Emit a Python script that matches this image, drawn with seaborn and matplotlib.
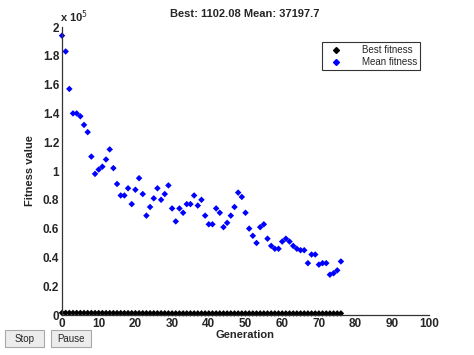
import matplotlib
matplotlib.use('Agg')
import matplotlib.pyplot as plt
import seaborn as sns
import pandas as pd
from matplotlib.lines import Line2D
from matplotlib.patches import Rectangle

# Dados (valores da media em unidades de 1e5)
generations = list(range(77))
mean_fitness = [
    1.94, 1.83, 1.57, 1.40, 1.40, 1.38, 1.32, 1.27, 1.10, 0.98,
    1.01, 1.03, 1.08, 1.15, 1.02, 0.91, 0.83, 0.83, 0.88, 0.77,
    0.87, 0.95, 0.84, 0.69, 0.75, 0.81, 0.88, 0.80, 0.84, 0.90,
    0.74, 0.65, 0.74, 0.71, 0.77, 0.77, 0.83, 0.76, 0.80, 0.69,
    0.63, 0.63, 0.74, 0.71, 0.61, 0.64, 0.69, 0.75, 0.85, 0.82,
    0.71, 0.60, 0.55, 0.50, 0.61, 0.63, 0.53, 0.48, 0.46, 0.46,
    0.51, 0.53, 0.51, 0.48, 0.46, 0.45, 0.45, 0.36, 0.42, 0.42,
    0.35, 0.36, 0.36, 0.28, 0.29, 0.31, 0.372,
]
best_fitness = [
    1500, 1480, 1460, 1450, 1440, 1430, 1420, 1410, 1400, 1390,
    1380, 1370, 1360, 1350, 1340, 1330, 1320, 1310, 1300, 1290,
    1280, 1270, 1260, 1250, 1240, 1230, 1220, 1210, 1200, 1150,
    1140, 1138, 1136, 1134, 1132, 1130, 1128, 1126, 1124, 1122,
    1120, 1119, 1118, 1117, 1116, 1115, 1114, 1113, 1112, 1111,
    1110, 1109, 1108, 1107, 1106.5, 1106, 1105.5, 1105, 1104.8, 1104.6,
    1104.4, 1104.2, 1104, 1103.8, 1103.6, 1103.4, 1103.2, 1103, 1102.9, 1102.8,
    1102.7, 1102.6, 1102.5, 1102.4, 1102.3, 1102.2, 1102.08,
]
x_ticks = list(range(0, 101, 10))
y_ticks = [0, 0.2, 0.4, 0.6, 0.8, 1.0, 1.2, 1.4, 1.6, 1.8, 2.0]
y_labels = ['0', '0.2', '0.4', '0.6', '0.8', '1', '1.2', '1.4', '1.6', '1.8', '2']

df = pd.DataFrame({
    'Generation': generations + generations,
    'Fitness': best_fitness + [m * 1e5 for m in mean_fitness],
    'Serie': ['Best fitness'] * len(generations) + ['Mean fitness'] * len(generations),
})

sns.set_style('white')
plt.rcParams['font.family'] = ['Liberation Sans', 'DejaVu Sans']

W, H = 474, 355
fig = plt.figure(figsize=(W / 100, H / 100), dpi=100)
ax = fig.add_axes([62 / W, 1 - 315 / H, (429 - 62) / W, (315 - 27) / H])

sns.scatterplot(data=df, x='Generation', y='Fitness', hue='Serie',
                palette={'Best fitness': 'black', 'Mean fitness': 'blue'},
                marker='D', s=11, edgecolor=None, linewidth=0, ax=ax,
                legend=False, clip_on=False)

ax.set_xlim(0, 100)
ax.set_ylim(0, 2e5)
ax.set_xticks(x_ticks)
ax.set_yticks([v * 1e5 for v in y_ticks])
ax.set_xticklabels([str(t) for t in x_ticks], fontweight='bold', fontsize=8.5)
ax.set_yticklabels(y_labels, fontweight='bold', fontsize=8.5)
ax.tick_params(direction='in', length=4, width=0.8, color='#333333', pad=2)
for s in ['top', 'right']:
    ax.spines[s].set_visible(False)
for s in ['left', 'bottom']:
    ax.spines[s].set_color('#333333')
    ax.spines[s].set_linewidth(0.9)

ax.set_xlabel('Generation', fontweight='bold', fontsize=8, labelpad=0)
ax.set_ylabel('Fitness value', fontweight='bold', fontsize=8, labelpad=6)

fig.text(245 / W, 1 - 14 / H, 'Best: 1102.08 Mean: 37197.7', ha='center', va='center',
         fontweight='bold', fontsize=8)
fig.text(60 / W, 1 - 17 / H, r'x 10$^{5}$', ha='left', va='center',
         fontweight='bold', fontsize=8)

# legenda
handles = [Line2D([], [], marker='D', color='black', ls='none', markersize=3),
           Line2D([], [], marker='D', color='blue', ls='none', markersize=3)]
leg = fig.legend(handles, ['Best fitness', 'Mean fitness'],
                 loc='upper left', bbox_to_anchor=(322 / W, 1 - 42 / H),
                 borderaxespad=0,
                 fontsize=7, frameon=True, fancybox=False, edgecolor='black',
                 handletextpad=1.5, borderpad=0.3, labelspacing=0.25,
                 handlelength=2.3)
leg.get_frame().set_linewidth(0.8)

# botoes
for x0, x1, label in [(5, 44, 'Stop'), (51, 91, 'Pause')]:
    fig.add_artist(Rectangle((x0 / W, 1 - 347 / H), (x1 - x0) / W, 17 / H,
                             transform=fig.transFigure, fc='#ececec', ec='#a8a8a8', lw=0.8))
    fig.text((x0 + x1) / 2 / W, 1 - 338.5 / H, label, ha='center', va='center', fontsize=7)

fig.savefig('out.png', dpi=100)
